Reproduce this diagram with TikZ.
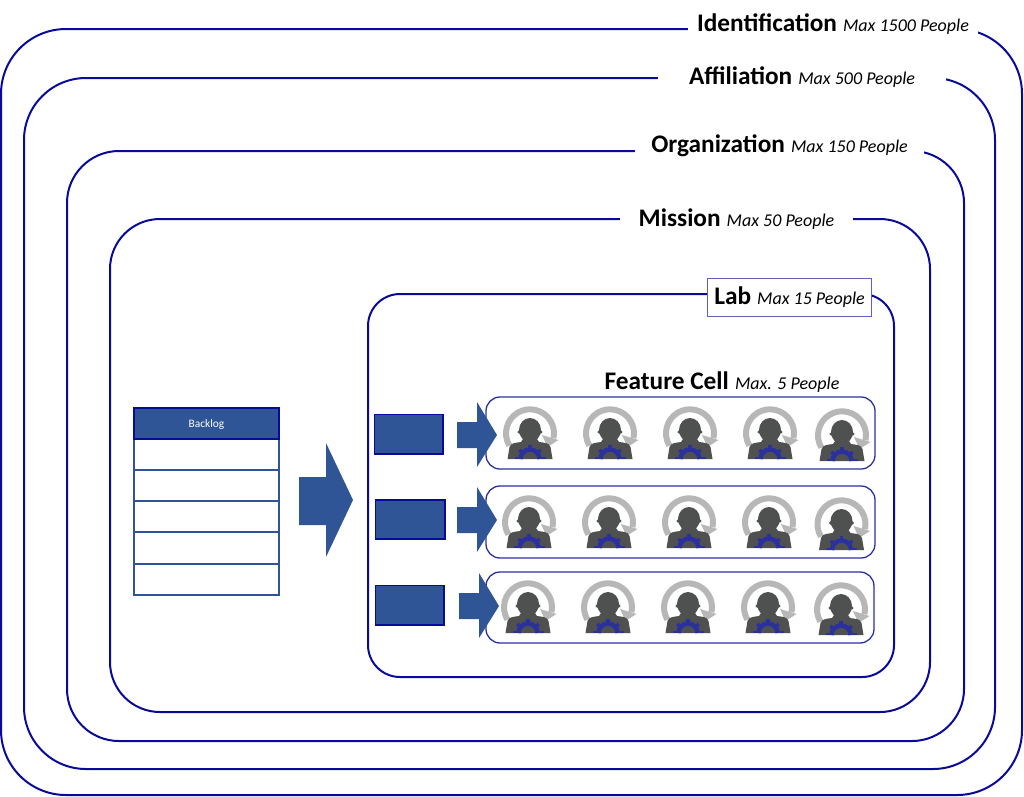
\documentclass[tikz,border=0pt]{standalone}
\usepackage{fontspec}
\setmainfont{Carlito}
\definecolor{framecol}{HTML}{0A0A9A}
\definecolor{blockcol}{HTML}{2F5597}
\definecolor{ringcol}{HTML}{B7B7B7}
\definecolor{bodycol}{HTML}{4F5150}
\definecolor{gearcol}{HTML}{2A309E}
\newcommand{\layername}[1]{{\fontsize{25.3}{27}\selectfont\bfseries\upshape #1}\hspace{2pt}}
\tikzset{
    frameline/.style={draw=framecol, line width=2pt},
    labelfont/.style={inner sep=0pt, font=\fontsize{18}{20}\selectfont\itshape},
    layerlabel/.style={labelfont, fill=white, minimum height=36pt},
    taskbox/.style={draw=framecol, fill=blockcol, line width=1.6pt},
    backlogrow/.style={draw=blockcol, fill=white, line width=1.8pt},
    worker/.pic={
        \begin{scope}[y=1pt, x=1pt]
            \draw[ringcol, line width=6pt] (0, 25.7) ++(211:24) arc[start angle=211, end angle=-12, radius=24];
            \fill[ringcol] (12, 24) -- (28.5, 19) -- (17.5, 12) -- cycle;
            \fill[bodycol] (-22.5, 0) -- (-20.5, 12) to[out=70, in=190] (-9, 17) -- (-7, 20) -- (7, 20) -- (9, 17) to[out=-10, in=110] (20.5, 12) -- (22.5, 0) -- cycle;
            \fill[bodycol] (0, 29) ellipse (11 and 12);
            \fill[bodycol] (-10.8, 27) circle (1.8);
            \fill[bodycol] (10.8, 27) circle (1.8);
            \draw[gearcol, line width=4.4pt] (9.5, 0) arc[start angle=0, end angle=180, radius=9.5];
            \foreach \ang in {40, 90, 140} {
                \draw[gearcol, line width=3.4pt] (\ang:9) -- (\ang:14);
            }
            \fill[gearcol] (-15.5, 0) rectangle (-8, 2.2);
            \fill[gearcol] (8, 0) rectangle (15.5, 2.2);
        \end{scope}
    }
}
\begin{document}
\begin{tikzpicture}[x=1pt, y=-1pt]
    \useasboundingbox (0, 0) rectangle (1024, 796);

    % nested frames
    \foreach \l/\t/\r/\b/\rad in {1/29/1022/795/65, 24/78/995/769/62, 67/151/964/741/52, 110/219/930/712/50, 368/294/894/677/32} {
        \draw[frameline, rounded corners=\rad pt] (\l, \t) rectangle (\r, \b);
    }

    \node[layerlabel, minimum width=290pt] (identification) at (833, 24) {\layername{Identification} Max 1500 People};
    \node[layerlabel, minimum width=288pt] (affiliation) at (802, 77) {\layername{Affiliation} Max 500 People};
    \node[layerlabel, minimum width=289pt] (organization) at (779.5, 146) {\layername{Organization} Max 150 People};
    \node[layerlabel, minimum width=233pt] (mission) at (736.5, 219) {\layername{Mission} Max 50 People};
    \node[labelfont, draw=framecol!65, line width=0.8pt, fill=white, minimum width=164pt, minimum height=38pt] (lab) at (789.5, 297) {\raisebox{-3pt}{\layername{Lab} Max 15 People}};
    \node[labelfont] (featurecell) at (722, 382) {\layername{Feature Cell} Max. 5 People};

    % backlog table
    \foreach \t/\b in {439/470, 470/501, 501/532, 532/564, 564/595} {
        \draw[backlogrow] (134, \t) rectangle (279, \b);
    }
    \draw[taskbox] (134, 408) rectangle (279, 439);
    \node[text=white, font=\fontsize{11.4}{13}\selectfont] (backlog) at (206.5, 425) {Backlog};

    % big arrow
    \fill[blockcol] (299, 477) -- (326, 477) -- (326, 443) -- (353, 500) -- (326, 557) -- (326, 525) -- (299, 525) -- cycle;

    % feature cells with their task box and arrow
    \foreach \t/\b/\r in {397/469/875, 486/558/875, 572/643/874} {
        \draw[draw=gearcol, line width=1.3pt, rounded corners=14pt] (486, \t) rectangle (\r, \b);
    }
    \foreach \l/\r/\t/\b in {374.5/443/414.5/454, 375.5/445/500/539, 375.5/444/585.5/625} {
        \draw[taskbox] (\l, \t) rectangle (\r, \b);
    }
    \foreach \x/\y in {457/435, 457/520, 459/606} {
        \fill[blockcol] (\x, \y - 13) -- (\x + 20, \y - 13) -- (\x + 20, \y - 33) -- (\x + 40, \y) -- (\x + 20, \y + 32) -- (\x + 20, \y + 13) -- (\x, \y + 13) -- cycle;
    }

    % people
    \foreach \dx/\y in {0/459, -1/548, -2/633} {
        \foreach \x in {530, 610, 690, 770} {
            \pic at (\x + \dx, \y) {worker};
        }
        \pic at (842 + 0.5*\dx, \y + 2) {worker};
    }
\end{tikzpicture}
\end{document}
